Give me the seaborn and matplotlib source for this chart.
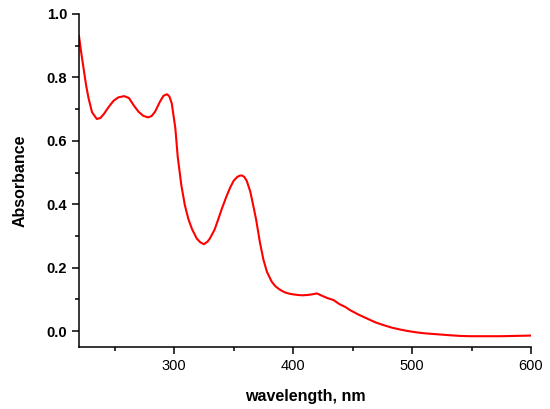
import numpy as np
import pandas as pd
import seaborn as sns
import matplotlib
matplotlib.use("Agg")
import matplotlib.pyplot as plt
from matplotlib.ticker import MultipleLocator, FormatStrFormatter

# UV-vis spectrum
wavelength = [220, 222, 224, 226, 228, 231, 235, 238, 241, 245, 249, 253, 258, 262,
              266, 270, 274, 278, 281, 284, 288, 291, 294, 296, 298, 301, 303, 306,
              309, 312, 315, 319, 322, 325, 328, 330, 334, 337, 340, 344, 347, 350,
              353, 355, 357, 359, 361, 364, 367, 369, 372, 375, 378, 382, 385, 388,
              391, 394, 397, 400, 404, 408, 412, 416, 420, 424, 429, 434, 439, 444,
              448, 455, 462, 469, 476, 483, 490, 497, 504, 511, 518, 525, 532, 540,
              549, 560, 574, 587, 600]
absorbance = [0.931, 0.875, 0.825, 0.775, 0.735, 0.690, 0.669, 0.672, 0.685, 0.707,
              0.726, 0.737, 0.741, 0.735, 0.712, 0.692, 0.679, 0.674, 0.678, 0.692,
              0.723, 0.742, 0.747, 0.740, 0.718, 0.640, 0.550, 0.461, 0.397, 0.353,
              0.322, 0.292, 0.280, 0.274, 0.282, 0.292, 0.320, 0.352, 0.385, 0.425,
              0.452, 0.474, 0.486, 0.490, 0.491, 0.486, 0.474, 0.440, 0.387, 0.350,
              0.282, 0.226, 0.187, 0.156, 0.142, 0.133, 0.126, 0.121, 0.118, 0.116,
              0.114, 0.113, 0.114, 0.116, 0.119, 0.112, 0.104, 0.098, 0.085, 0.076,
              0.066, 0.052, 0.040, 0.028, 0.019, 0.011, 0.005, 0.000, -0.004, -0.007,
              -0.009, -0.011, -0.013, -0.015, -0.016, -0.016, -0.016, -0.015, -0.014]

df = pd.DataFrame({'wavelength': wavelength, 'absorbance': absorbance})

sns.set_style("ticks")
plt.rcParams['font.family'] = ['Liberation Sans', 'DejaVu Sans']
plt.rcParams['text.color'] = '#000000'
plt.rcParams['axes.labelcolor'] = '#000000'

fig = plt.figure(figsize=(5.5, 4.09), dpi=100)
ax = fig.add_axes([0.1436, 0.1516, 0.8219, 0.8142])

sns.lineplot(data=df, x='wavelength', y='absorbance', color='#ff0000',
             linewidth=1.5, sort=False, ax=ax)

ax.set_xlim(220, 600)
ax.set_ylim(-0.05, 1.0)
ax.xaxis.set_major_locator(MultipleLocator(100))
ax.xaxis.set_minor_locator(MultipleLocator(50))
ax.yaxis.set_major_locator(MultipleLocator(0.2))
ax.yaxis.set_minor_locator(MultipleLocator(0.1))
ax.yaxis.set_major_formatter(FormatStrFormatter('%.1f'))

sns.despine(ax=ax)
for s in ['left', 'bottom']:
    ax.spines[s].set_linewidth(1.1)
    ax.spines[s].set_color('#000000')

ax.tick_params(axis='both', which='major', direction='out', length=5, width=1.1,
               color='#000000', labelsize=10.5, labelcolor='#000000')
ax.tick_params(axis='both', which='minor', direction='out', length=3, width=1.1,
               color='#000000')
for lab in ax.get_yticklabels():
    lab.set_fontweight('bold')

ax.set_xlabel('wavelength, nm', fontsize=11.5, fontweight='bold', labelpad=12,
              color='#000000')
ax.set_ylabel('Absorbance', fontsize=11.5, fontweight='bold', labelpad=14,
              color='#000000')

fig.savefig('out.png', dpi=100)
